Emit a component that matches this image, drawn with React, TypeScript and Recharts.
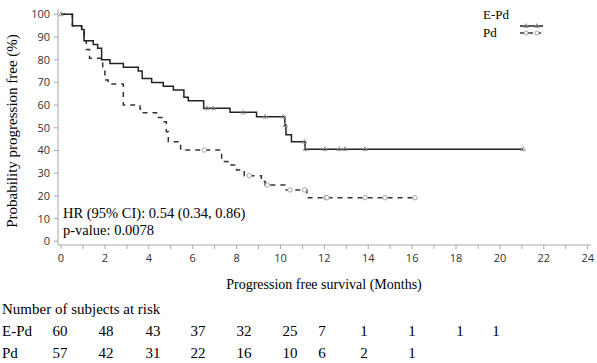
import React from "react";
import {
  ComposedChart,
  Line,
  XAxis,
  YAxis,
} from "recharts";

// Kaplan-Meier step points (time in months, % progression free)
const epdSteps = [
  { t: 0, s: 100 },
  { t: 0.52, s: 95.0 },
  { t: 0.94, s: 93.3 },
  { t: 1.05, s: 88.3 },
  { t: 1.47, s: 86.7 },
  { t: 1.67, s: 85.0 },
  { t: 1.85, s: 80.0 },
  { t: 2.23, s: 78.3 },
  { t: 2.84, s: 76.7 },
  { t: 3.52, s: 75.0 },
  { t: 3.7, s: 71.7 },
  { t: 4.13, s: 70.0 },
  { t: 4.66, s: 68.3 },
  { t: 5.12, s: 66.7 },
  { t: 5.6, s: 63.5 },
  { t: 5.8, s: 61.9 },
  { t: 6.5, s: 58.6 },
  { t: 7.7, s: 56.8 },
  { t: 8.91, s: 54.9 },
  { t: 10.2, s: 51.2 },
  { t: 10.25, s: 46.9 },
  { t: 10.5, s: 43.9 },
  { t: 11.12, s: 40.6 },
  { t: 21.06, s: 40.6 },
];

const pdSteps = [
  { t: 0, s: 100 },
  { t: 0.52, s: 95.0 },
  { t: 0.94, s: 93.3 },
  { t: 1.05, s: 88.3 },
  { t: 1.15, s: 84.5 },
  { t: 1.3, s: 80.6 },
  { t: 1.9, s: 75.5 },
  { t: 2.0, s: 71.0 },
  { t: 2.15, s: 69.3 },
  { t: 2.84, s: 60.0 },
  { t: 3.6, s: 58.3 },
  { t: 3.75, s: 56.6 },
  { t: 4.35, s: 54.5 },
  { t: 4.66, s: 52.7 },
  { t: 4.8, s: 48.3 },
  { t: 4.89, s: 43.9 },
  { t: 5.45, s: 40.2 },
  { t: 7.32, s: 35.1 },
  { t: 7.6, s: 33.6 },
  { t: 8.0, s: 31.4 },
  { t: 8.35, s: 28.9 },
  { t: 9.13, s: 26.3 },
  { t: 9.3, s: 24.8 },
  { t: 10.2, s: 22.6 },
  { t: 11.2, s: 19.2 },
  { t: 16.13, s: 19.2 },
];

// censored observations
const epdCensored = [
  { t: 0, s: 100 },
  { t: 6.64, s: 58.6 },
  { t: 6.94, s: 58.6 },
  { t: 8.31, s: 56.8 },
  { t: 9.3, s: 54.9 },
  { t: 10.13, s: 54.9 },
  { t: 10.22, s: 51.2 },
  { t: 11.1, s: 43.9 },
  { t: 11.14, s: 40.6 },
  { t: 12.03, s: 40.6 },
  { t: 12.68, s: 40.6 },
  { t: 12.94, s: 40.6 },
  { t: 13.85, s: 40.6 },
  { t: 21.06, s: 40.6 },
];

const pdCensored = [
  { t: 6.53, s: 40.2 },
  { t: 8.58, s: 28.9 },
  { t: 9.4, s: 24.8 },
  { t: 10.43, s: 22.6 },
  { t: 11.1, s: 22.6 },
  { t: 12.06, s: 19.2 },
  { t: 12.12, s: 19.2 },
  { t: 13.85, s: 19.2 },
  { t: 14.76, s: 19.2 },
  { t: 16.13, s: 19.2 },
];

const xTicks = Array.from({ length: 25 }, (_, i) => i);
const yTicks = [0, 10, 20, 30, 40, 50, 60, 70, 80, 90, 100];

const riskLabels = ["E-Pd", "Pd"];
const riskEpd = [60, 48, 43, 37, 32, 25, 7, 1, 1, 1, 1];
const riskPd = [57, 42, 31, 22, 16, 10, 6, 2, 1];
const riskColX = [60, 106, 153, 198, 244, 290, 322, 364, 412, 460, 496];

const TICK_FONT = "Open Sans";
const txt = { fontFamily: "Liberation Serif", fontSize: 14, fill: "#000" };
const legendTxt = { ...txt, fontSize: 13 };
const noteTxt = { ...txt, fontSize: 14.5 };
const riskTxt = { ...txt, fontSize: 15 };

const triangle = (props: any) => {
  const { cx, cy, key } = props;
  if (cx == null || cy == null) return <g key={key} />;
  return (
    <path
      key={key}
      d={`M${cx},${cy - 2.5} L${cx + 2.3},${cy + 1.5} L${cx - 2.3},${cy + 1.5} Z`}
      fill="none"
      stroke="#999"
      strokeWidth={0.9}
    />
  );
};

const circle = (props: any) => {
  const { cx, cy, key } = props;
  if (cx == null || cy == null) return <g key={key} />;
  return <circle key={key} cx={cx} cy={cy} r={2.2} fill="#fff" stroke="#999" strokeWidth={0.9} />;
};

export default function App() {
  return (
    <div style={{ position: "absolute", left: 0, top: 0, width: 597, height: 363, background: "#fff" }}>
      <ComposedChart
        width={597}
        height={363}
        margin={{ top: 9, right: 6, left: 0, bottom: 88 }}
      >
        <XAxis
          dataKey="t"
          type="number"
          domain={[-0.137, 24.15]}
          allowDataOverflow
          ticks={xTicks}
          interval={0}
          tickFormatter={(v: number) => (v % 2 === 0 ? String(v) : "")}
          tick={{ fontSize: 11, fill: "#333", fontFamily: TICK_FONT }}
          tickSize={4}
          tickMargin={5}
          height={30}
          stroke="#a8a8a8"
        />
        <XAxis
          xAxisId="top"
          orientation="top"
          type="number"
          domain={[-0.137, 24.15]}
          allowDataOverflow
          tick={false}
          tickLine={false}
          height={0}
          stroke="#b8b8b8"
        />
        <YAxis
          type="number"
          domain={[-1.63, 102.33]}
          allowDataOverflow
          ticks={yTicks}
          interval={0}
          tick={{ fontSize: 11, fill: "#333", fontFamily: TICK_FONT }}
          tickSize={4}
          tickMargin={4}
          width={58}
          stroke="#a8a8a8"
        />
        <YAxis
          yAxisId="right"
          orientation="right"
          type="number"
          domain={[0, 1]}
          tick={false}
          tickLine={false}
          width={0}
          stroke="#b8b8b8"
        />
        <Line
          data={pdSteps}
          dataKey="s"
          type="stepAfter"
          stroke="#333"
          strokeWidth={1.5}
          strokeDasharray="5 5"
          dot={false}
          isAnimationActive={false}
        />
        <Line
          data={epdSteps}
          dataKey="s"
          type="stepAfter"
          stroke="#222"
          strokeWidth={1.5}
          dot={false}
          isAnimationActive={false}
        />
        <Line
          data={pdCensored}
          dataKey="s"
          stroke="none"
          dot={circle}
          activeDot={false}
          isAnimationActive={false}
        />
        <Line
          data={epdCensored}
          dataKey="s"
          stroke="none"
          dot={triangle}
          activeDot={false}
          isAnimationActive={false}
        />
      </ComposedChart>

      <svg
        width={597}
        height={363}
        style={{ position: "absolute", left: 0, top: 0, pointerEvents: "none" }}
      >
        {/* legend */}
        <text x={483} y={19} style={legendTxt}>E-Pd</text>
        <text x={483} y={37} style={legendTxt}>Pd</text>
        <line x1={520} y1={26} x2={543} y2={26} stroke="#222" strokeWidth={1.5} />
        <path d="M526,23.5 L528.3,27.5 L523.7,27.5 Z" fill="none" stroke="#999" strokeWidth={0.9} />
        <path d="M537,23.5 L539.3,27.5 L534.7,27.5 Z" fill="none" stroke="#999" strokeWidth={0.9} />
        <line x1={520} y1={33} x2={543} y2={33} stroke="#333" strokeWidth={1.5} strokeDasharray="5 3" />
        <circle cx={526} cy={33} r={2} fill="#fff" stroke="#999" strokeWidth={0.9} />
        <circle cx={537} cy={33} r={2} fill="#fff" stroke="#999" strokeWidth={0.9} />

        {/* annotation */}
        <text x={63} y={218} style={noteTxt}>HR (95% CI): 0.54 (0.34, 0.86)</text>
        <text x={63} y={235} style={noteTxt}>p-value: 0.0078</text>

        {/* axis titles */}
        <text x={12} y={131} textAnchor="middle" dominantBaseline="central" transform="rotate(-90 12 131)" style={{ ...txt, fontSize: 15 }}>
          Probability progression free (%)
        </text>
        <text x={324} y={289} textAnchor="middle" style={txt}>Progression free survival (Months)</text>

        {/* number at risk */}
        <text x={2} y={314} style={riskTxt}>Number of subjects at risk</text>
        <text x={2} y={336} style={riskTxt}>{riskLabels[0]}</text>
        <text x={2} y={358} style={riskTxt}>{riskLabels[1]}</text>
        {riskEpd.map((n, i) => (
          <text key={"e" + i} x={riskColX[i]} y={336} textAnchor="middle" style={riskTxt}>{n}</text>
        ))}
        {riskPd.map((n, i) => (
          <text key={"p" + i} x={riskColX[i]} y={358} textAnchor="middle" style={riskTxt}>{n}</text>
        ))}
      </svg>
    </div>
  );
}
